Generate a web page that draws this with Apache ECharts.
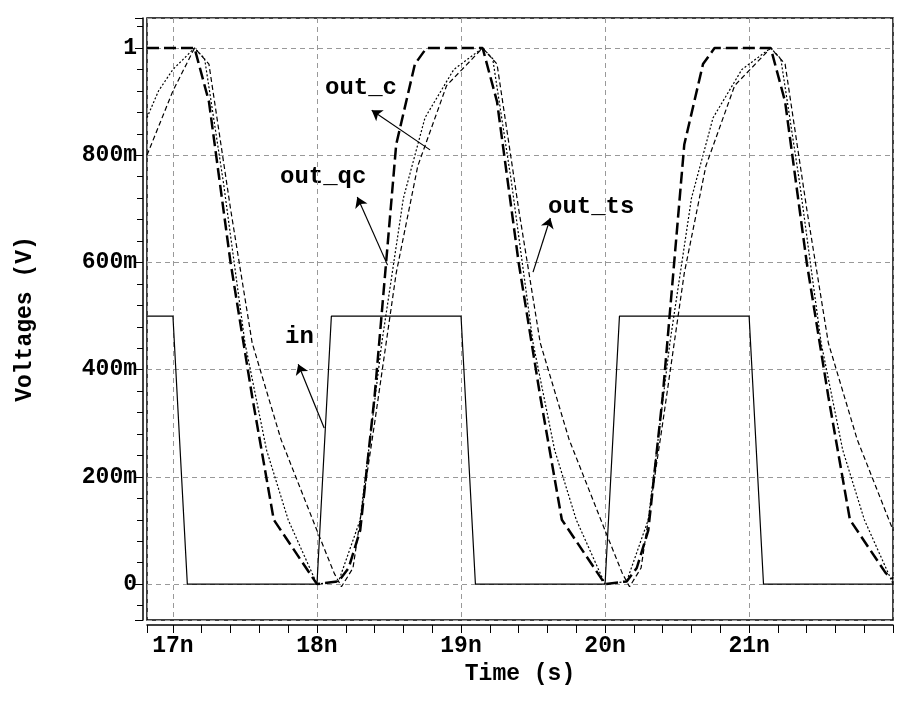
<!DOCTYPE html>
<html><head><meta charset="utf-8">
<script src="https://cdn.jsdelivr.net/npm/echarts@6/dist/echarts.min.js"></script>
<style>html,body{margin:0;background:#fff}#c{width:915px;height:710px}</style>
</head><body><div id="c"></div>
<script>
const inT  = [16.82,17.0,17.1,18.0,18.1,19.0,19.1,20.0,20.1,21.0,21.1,22.0];
const inV  = [0.5,0.5,0,0,0.5,0.5,0,0,0.5,0.5,0,0];
const cT = [16.82,17.15,17.25,17.4,17.55,17.7,17.95,18.0,18.15,18.22,18.3,18.4,18.48,18.55,18.68,18.76,19.15,19.25,19.4,19.55,19.7,19.95,20.0,20.15,20.22,20.3,20.4,20.48,20.55,20.68,20.76,21.15,21.25,21.4,21.55,21.7,21.95,22.0];
const cV = [1.0,1.0,0.9,0.6,0.35,0.12,0.02,0.0,0.005,0.03,0.1,0.35,0.6,0.82,0.97,1.0,1.0,0.9,0.6,0.35,0.12,0.02,0.0,0.005,0.03,0.1,0.35,0.6,0.82,0.97,1.0,1.0,0.9,0.6,0.35,0.12,0.02,0.01];
const qT = [16.82,16.9,17.0,17.15,17.22,17.35,17.5,17.65,17.8,18.0,18.15,18.3,18.45,18.6,18.75,18.95,19.15,19.22,19.35,19.5,19.65,19.8,20.0,20.15,20.3,20.45,20.6,20.75,20.95,21.15,21.22,21.35,21.5,21.65,21.8,22.0];
const qV = [0.87,0.92,0.96,1.0,0.98,0.75,0.45,0.25,0.12,0.0,0.005,0.12,0.45,0.72,0.87,0.96,1.0,0.98,0.75,0.45,0.25,0.12,0.0,0.005,0.12,0.45,0.72,0.87,0.96,1.0,0.98,0.75,0.45,0.25,0.12,0.0];
const tT = [16.82,17.0,17.15,17.25,17.4,17.55,17.75,18.0,18.12,18.17,18.25,18.4,18.55,18.7,18.9,19.15,19.25,19.4,19.55,19.75,20.0,20.12,20.17,20.25,20.4,20.55,20.7,20.9,21.15,21.25,21.4,21.55,21.75,22.0];
const tV = [0.8,0.92,1.0,0.97,0.7,0.45,0.27,0.1,0.02,-0.005,0.03,0.3,0.58,0.78,0.93,1.0,0.97,0.7,0.45,0.27,0.1,0.02,-0.005,0.03,0.3,0.58,0.78,0.93,1.0,0.97,0.7,0.45,0.27,0.1];
const yTicks = {0:'0',0.2:'200m',0.4:'400m',0.6:'600m',0.8:'800m',1:'1'};
const labels = [
  {name:'out_c', from:[18.785,0.81], to:[18.38,0.884], px:[325,88]},
  {name:'out_qc', from:[18.49,0.595], to:[18.28,0.722], px:[280,177]},
  {name:'out_ts', from:[19.5,0.582], to:[19.62,0.683], px:[548,207]},
  {name:'in', from:[18.05,0.291], to:[17.87,0.41], px:[285,337]}
];
const zip=(a,b)=>a.map((x,i)=>[x,b[i]]);
const font='Liberation Mono';
const chart=echarts.init(document.getElementById('c'));
chart.setOption({
  animation:false,
  grid:{left:147,right:22,top:18,bottom:90,show:true,borderColor:'#000',borderWidth:1.5},
  xAxis:{type:'value',min:16.82,max:21.999,splitNumber:5,offset:5,
    axisLine:{onZero:false,lineStyle:{color:'#000',width:1.5}},
    axisTick:{length:8,lineStyle:{color:'#000'}},
    minorTick:{show:true,splitNumber:5,length:8,lineStyle:{color:'#000'}},
    splitLine:{lineStyle:{color:'#999',type:[5,4]}},
    axisLabel:{color:'#000',fontFamily:font,fontWeight:'bold',fontSize:23,margin:10,
      formatter:v=>Math.abs(v-Math.round(v))<1e-6&&v<21.5?Math.round(v)+'n':''},
    name:'Time (s)',nameLocation:'middle',nameGap:36,
    nameTextStyle:{color:'#000',fontFamily:font,fontWeight:'bold',fontSize:23}},
  yAxis:{type:'value',min:-0.067,max:1.056,splitNumber:5,offset:4,
    axisLine:{show:true,onZero:false,lineStyle:{color:'#000',width:1.5}},
    axisTick:{length:8,lineStyle:{color:'#000'}},
    minorTick:{show:true,splitNumber:5,length:6,lineStyle:{color:'#000'}},
    splitLine:{lineStyle:{color:'#999',type:[5,4]}},
    axisLabel:{color:'#000',fontFamily:font,fontWeight:'bold',fontSize:23,margin:6,
      formatter:v=>{const k=Math.round(v*10)/10;return Math.abs(v-k)<1e-6&&yTicks[k]!==undefined?yTicks[k]:'';}},
    name:'Voltages (V)',nameLocation:'middle',nameGap:106,
    nameTextStyle:{color:'#000',fontFamily:font,fontWeight:'bold',fontSize:23}},
  series:[
    {type:'line',data:zip(inT,inV),symbol:'none',lineStyle:{color:'#000',width:1.2},
     markLine:{silent:true,symbol:['none','arrow'],symbolSize:10,label:{show:false},
       lineStyle:{color:'#000',width:1.2,type:'solid'},
       data:labels.map(l=>[{coord:l.from},{coord:l.to}])}},
    {type:'line',data:zip(cT,cV),symbol:'none',lineStyle:{color:'#000',width:2.5,type:[12,5]}},
    {type:'line',data:zip(qT,qV),symbol:'none',lineStyle:{color:'#000',width:1.2,type:[2,2]}},
    {type:'line',data:zip(tT,tV),symbol:'none',lineStyle:{color:'#000',width:1.2,type:[5,3]}}
  ],
  graphic:labels.map(l=>({type:'text',left:l.px[0],top:l.px[1]-12,
    style:{text:l.name,fill:'#000',font:'bold 24px "Liberation Mono"'}}))
});
</script></body></html>
